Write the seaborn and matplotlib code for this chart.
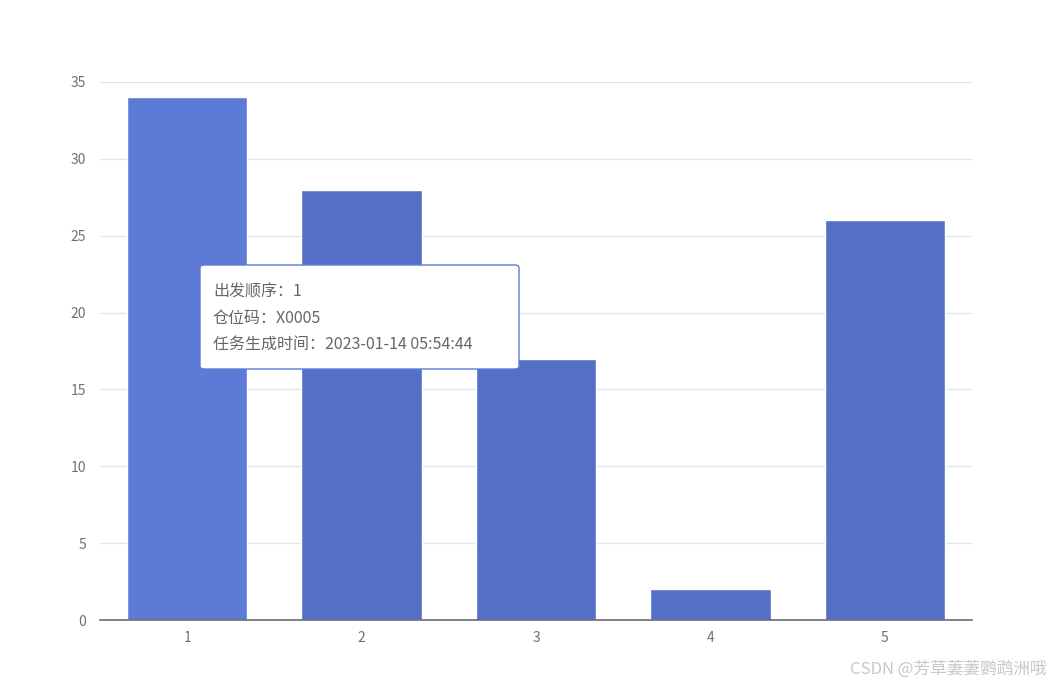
import matplotlib
matplotlib.use('Agg')
import matplotlib.pyplot as plt
import seaborn as sns
from matplotlib.patches import FancyBboxPatch

categories = ['1', '2', '3', '4', '5']
values = [34, 28, 17, 2, 26]
tooltip_lines = ['出发顺序：1', '仓位码：X0005', '任务生成时间：2023-01-14 05:54:44']

sns.set_theme(style='white')
plt.rcParams['font.family'] = ['Noto Sans CJK SC', 'DejaVu Sans']

fig = plt.figure(figsize=(10.64, 6.89), dpi=100)
ax = fig.add_axes([0.094, 0.100, 0.8195, 0.781])

colors = ['#5d7bd6'] + ['#5470c6'] * 4
sns.barplot(x=categories, y=values, palette=colors, hue=categories, legend=False,
            width=0.69, ax=ax, saturation=1)

ax.set_xlim(-0.5, 4.5)
ax.set_ylim(0, 35)
ax.set_yticks(range(0, 36, 5))
ax.yaxis.grid(True, color='#e0e6f1', linewidth=1)
ax.set_axisbelow(True)
for s in ['top', 'right', 'left']:
    ax.spines[s].set_visible(False)
ax.spines['bottom'].set_color('#6e7079')
ax.set_xlabel('')
ax.set_ylabel('')

# ticks at category boundaries, labels at centres
ax.set_xticks([i - 0.5 for i in range(6)])
ax.set_xticklabels([])
ax.tick_params(axis='x', which='major', length=5, color='#6e7079', direction='out')
ax.set_xticks(range(5), minor=True)
ax.set_xticklabels(categories, minor=True)
ax.tick_params(axis='x', which='minor', length=0, pad=8, labelsize=10, labelcolor='#6e7079')
ax.tick_params(axis='y', length=0, pad=10, labelsize=10, labelcolor='#6e7079')

# tooltip box
box = FancyBboxPatch((200 / 1064, 1 - 369 / 689), 319 / 1064, 104 / 689,
                     boxstyle='round,pad=0,rounding_size=0.004',
                     transform=fig.transFigure, facecolor='white',
                     edgecolor='#5d7bd6', linewidth=1, zorder=10)
fig.patches.append(box)
for i, line in enumerate(tooltip_lines):
    fig.text(213 / 1064, 1 - (292 + 26 * i) / 689, line, fontsize=11.5,
             color='#666666', va='center', ha='left', zorder=11)

fig.text(1046 / 1064, 1 - 669 / 689, 'CSDN @芳草萋萋鹦鹉洲哦', fontsize=12,
         color='#c8c8c8', ha='right', va='center')

fig.savefig('out.png', dpi=100, facecolor='white')
